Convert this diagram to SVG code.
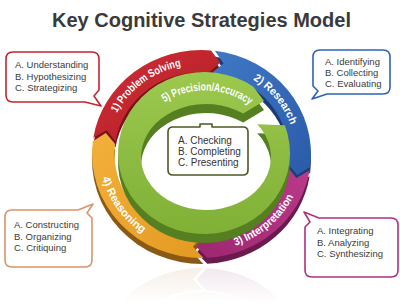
<svg xmlns="http://www.w3.org/2000/svg" xmlns:xlink="http://www.w3.org/1999/xlink" width="400" height="307" viewBox="0 0 400 307">
<style>
.title{font-family:"Liberation Sans",Arial,sans-serif;font-weight:bold;font-size:20px;fill:#3a3a3a;}
.lbl{font-family:"Liberation Sans",Arial,sans-serif;font-size:9.5px;fill:#3a3a3a;}
.clbl{font-family:"Liberation Sans",Arial,sans-serif;font-size:10px;fill:#333;}
.ring{font-family:"Liberation Sans",Arial,sans-serif;font-weight:bold;font-size:11px;fill:#fff;}
.box{fill:#fff;stroke-width:1.6;stroke-linejoin:round;}
</style>
<defs>
<path id="pRed" d="M93.35,137.73 A109.5,104 0 0,1 211.04,50.40 L220.25,62.71 L209.08,72.31 A87,82 0 0,0 115.57,141.17 L106.60,129.93 Z"/>
<path id="pBlue" d="M214.84,50.77 A109.5,104 0 0,1 310.18,166.67 L297.23,174.92 L287.85,163.99 A87,82 0 0,0 212.10,72.61 L223.60,63.38 Z"/>
<path id="pMag" d="M309.65,170.27 A109.5,104 0 0,1 207.23,257.86 L196.36,246.87 L206.05,235.89 A87,82 0 0,0 287.43,166.83 L296.40,178.07 Z"/>
<path id="pOr" d="M203.41,257.98 A109.5,104 0 0,1 92.82,141.33 L105.77,133.08 L115.15,144.01 A87,82 0 0,0 203.02,235.99 L192.94,246.65 Z"/>
<path id="pGreen" d="M284.81,125.30 A86,81 0 1,1 253.33,86.65 L264,101 L243.28,113.59 A65,53 0 1,0 257.22,124.37 Z"/>
<path id="tpRed" d="M108.33,135.29 A95.25,90 0 0,1 204.82,64.05"/>
<path id="tpBlue" d="M221.90,67.11 A94.25,89 0 0,1 295.66,157.88"/>
<path id="tpMag" d="M205.07,250.94 A102.25,97 0 0,0 302.75,167.5"/>
<path id="tpOr" d="M99.81,143.86 A102.25,97 0 0,0 173.32,247.24"/>
<path id="tpGreen" d="M157.26,107.83 A70,64.5 0 0,1 256.19,111.01"/>
<linearGradient id="gRed" x1="0" y1="0" x2="1" y2="1"><stop offset="0" stop-color="#cf2e35"/><stop offset="1" stop-color="#b21d26"/></linearGradient>
<linearGradient id="gBlue" x1="0" y1="0" x2="1" y2="1"><stop offset="0" stop-color="#4078c6"/><stop offset="1" stop-color="#2b5ba8"/></linearGradient>
<linearGradient id="gMag" x1="1" y1="0" x2="0" y2="1"><stop offset="0" stop-color="#b93a8a"/><stop offset="1" stop-color="#9e2770"/></linearGradient>
<linearGradient id="gOr" x1="0" y1="0" x2="1" y2="1"><stop offset="0" stop-color="#f2b03a"/><stop offset="1" stop-color="#e49a22"/></linearGradient>
<linearGradient id="gGreen" x1="0" y1="0" x2="0" y2="1"><stop offset="0" stop-color="#9cc84e"/><stop offset="1" stop-color="#80b036"/></linearGradient>
<linearGradient id="gFade" x1="0" y1="0" x2="0" y2="1"><stop offset="0" stop-color="#fff"/><stop offset="1" stop-color="#000"/></linearGradient>
<mask id="mFade" maskUnits="userSpaceOnUse" x="0" y="0" width="400" height="307"><rect x="0" y="262" width="400" height="40" fill="url(#gFade)"/></mask>
</defs>
<rect width="400" height="307" fill="#fff"/>
<text class="title" x="201.5" y="27" text-anchor="middle">Key Cognitive Strategies Model</text>

<g id="reflection" mask="url(#mFade)">
<g transform="translate(0,526) scale(1,-1)" opacity="0.16">
<use xlink:href="#pOr" fill="#c08a50"/>
<use xlink:href="#pMag" fill="#a05080"/>
<use xlink:href="#pGreen" fill="#8a9a70"/>
</g>
</g>

<g id="ring-depth">
<use xlink:href="#pRed" transform="translate(0,6)" fill="#7a1318"/>
<use xlink:href="#pBlue" transform="translate(0,6)" fill="#1c3c78"/>
<use xlink:href="#pMag" transform="translate(0,6)" fill="#6a1a4c"/>
<use xlink:href="#pOr" transform="translate(0,6)" fill="#8a5a14"/>
</g>
<g id="problem-solving">
<use xlink:href="#pRed" fill="url(#gRed)"/>
<text class="ring"><textPath xlink:href="#tpRed" startOffset="50%" text-anchor="middle" textLength="82" lengthAdjust="spacingAndGlyphs">1) Problem Solving</textPath></text>
</g>
<g id="research">
<use xlink:href="#pBlue" fill="url(#gBlue)"/>
<text class="ring"><textPath xlink:href="#tpBlue" startOffset="50%" text-anchor="middle" textLength="60" lengthAdjust="spacingAndGlyphs">2) Research</textPath></text>
</g>
<g id="interpretation">
<use xlink:href="#pMag" fill="url(#gMag)"/>
<text class="ring"><textPath xlink:href="#tpMag" startOffset="50%" text-anchor="middle" textLength="78" lengthAdjust="spacingAndGlyphs">3) Interpretation</textPath></text>
</g>
<g id="reasoning">
<use xlink:href="#pOr" fill="url(#gOr)"/>
<text class="ring"><textPath xlink:href="#tpOr" startOffset="50%" text-anchor="middle" textLength="70" lengthAdjust="spacingAndGlyphs">4) Reasoning</textPath></text>
</g>
<g id="precision-accuracy">
<use xlink:href="#pGreen" transform="translate(0,9)" fill="#557f20"/>
<use xlink:href="#pGreen" fill="url(#gGreen)"/>
<text class="ring" style="font-size:11.5px"><textPath xlink:href="#tpGreen" startOffset="50%" text-anchor="middle" textLength="90" lengthAdjust="spacingAndGlyphs">5) Precision/Accuracy</textPath></text>
</g>

<g id="box-problem-solving">
<path class="box" stroke="#c4262e" d="M13,52 H92 Q99,52 99,59 V90 L94,96 L101,106 L85,102 H13 Q6,102 6,95 V59 Q6,52 13,52 Z"/>
<text class="lbl" x="15" y="68">A. Understanding</text>
<text class="lbl" x="15" y="79.5">B. Hypothesizing</text>
<text class="lbl" x="15" y="91">C. Strategizing</text>
</g>
<g id="box-research">
<path class="box" stroke="#2f63b5" d="M320,50 H383 Q390,50 390,57 V87 Q390,94 383,94 H327 L312,99 L318,91 L313,86 V57 Q313,50 320,50 Z"/>
<text class="lbl" x="325" y="65">A. Identifying</text>
<text class="lbl" x="325" y="76">B. Collecting</text>
<text class="lbl" x="325" y="87">C. Evaluating</text>
</g>
<g id="box-reasoning">
<path class="box" stroke="#d9956a" d="M12,210 H78 L93,204 L87,213 L92,218 V260 Q92,267 85,267 H12 Q5,267 5,260 V217 Q5,210 12,210 Z"/>
<text class="lbl" x="14" y="228">A. Constructing</text>
<text class="lbl" x="14" y="239.5">B. Organizing</text>
<text class="lbl" x="14" y="251">C. Critiquing</text>
</g>
<g id="box-interpretation">
<path class="box" stroke="#b0307e" d="M319,218 H391 Q398,218 398,225 V270 Q398,277 391,277 H312 Q305,277 305,270 V227 L310,222 L304,212 Z"/>
<text class="lbl" x="317" y="234">A. Integrating</text>
<text class="lbl" x="317" y="245.5">B. Analyzing</text>
<text class="lbl" x="317" y="257">C. Synthesizing</text>
</g>
<g id="box-precision">
<path class="box" stroke="#4b5a22" stroke-width="2" d="M173,127 H200 V124 H212 V127 H243 Q248,127 248,132 V170 Q248,175 243,175 H173 Q168,175 168,170 V132 Q168,127 173,127 Z"/>
<text class="clbl" x="178" y="144">A. Checking</text>
<text class="clbl" x="178" y="155">B. Completing</text>
<text class="clbl" x="178" y="166">C. Presenting</text>
</g>
<g id="connectors"/>
</svg>
